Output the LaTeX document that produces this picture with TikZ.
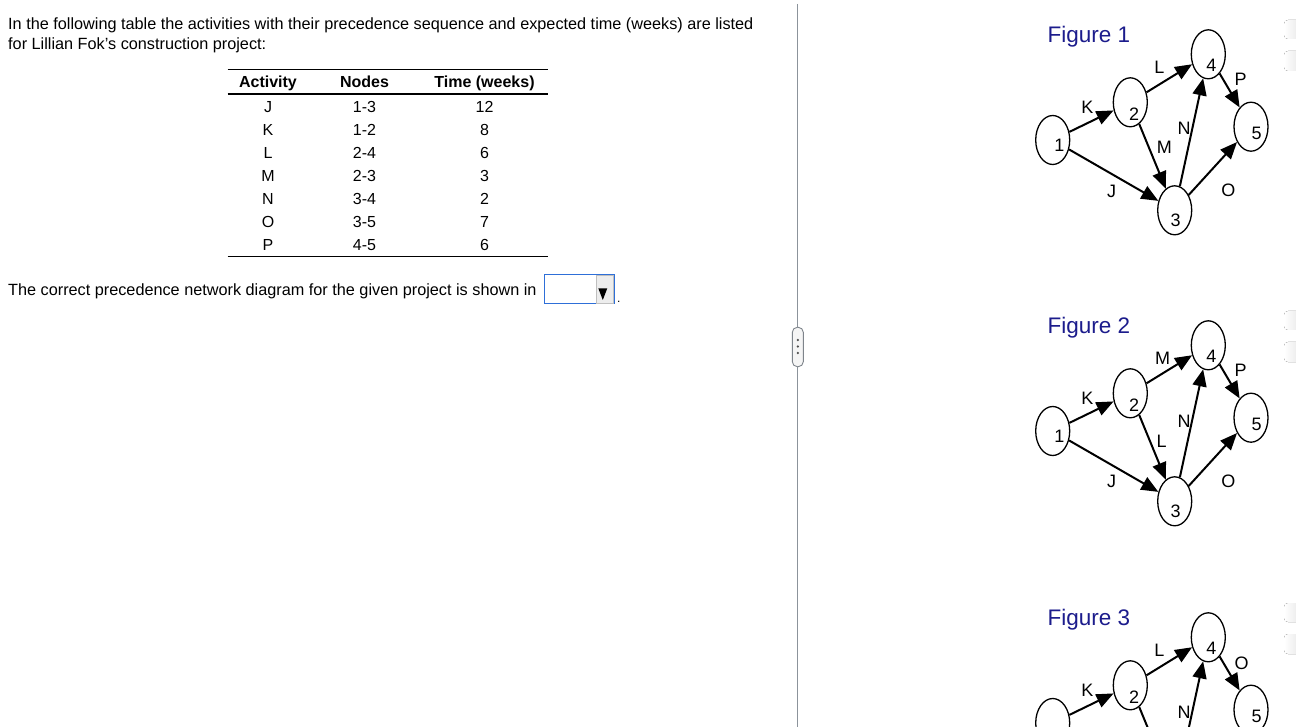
\documentclass[tikz,border=0pt]{standalone}
\usepackage{fontspec}
\setmainfont{Liberation Sans}
\usetikzlibrary{shapes.geometric,arrows.meta,calc}
\definecolor{figblue}{RGB}{28,28,140}
\definecolor{selblue}{RGB}{46,111,216}
\definecolor{divgray}{RGB}{140,147,155}
\tikzset{
  txt/.style={inner sep=0pt,anchor=base west,font=\fontsize{16.25}{19}\selectfont},
  cell/.style={inner sep=0pt,anchor=base,font=\fontsize{16}{19}\selectfont},
  head/.style={inner sep=0pt,anchor=base,font=\fontsize{16}{19}\selectfont\bfseries},
  figtitle/.style={inner sep=0pt,anchor=base west,text=figblue,font=\fontsize{22.5}{26}\selectfont},
  evt/.style={ellipse,draw,line width=1.3pt,minimum width=34pt,minimum height=49pt,inner sep=0pt},
  digit/.style={inner sep=0pt,font=\fontsize{18}{20}\selectfont},
  act/.style={inner sep=0pt,font=\fontsize{18}{20}\selectfont},
  edge/.style={line width=2pt,-{Triangle[length=17pt,width=14pt]}},
  blob/.style={left color=white,right color=black!9,draw=none,rounded corners=4pt},
}
\begin{document}
\begin{tikzpicture}[x=1pt,y=-1pt]
\useasboundingbox (0,0) rectangle (1296,727);
\clip (0,0) rectangle (1296,727);
\fill[white] (0,0) rectangle (1296,727);

% ---- question text ----
\node[txt] (l1) at (8,29.3) {In the following table the activities with their precedence sequence and expected time (weeks) are listed};
\node[txt] (l2) at (8,49.8) {for Lillian Fok's construction project:};

% ---- table ----
\draw[line width=1pt] (227.5,69.5) -- (547.5,69.5);
\draw[line width=2.2pt] (227.5,94) -- (547.5,94);
\draw[line width=1pt] (227.5,256.3) -- (547.5,256.3);
\node[head] (h1) at (268,88) {Activity};
\node[head] (h2) at (364.5,88) {Nodes};
\node[head] (h3) at (484.5,88) {Time (weeks)};
\foreach \a/\n/\t [count=\i from 0] in {J/1-3/12,K/1-2/8,L/2-4/6,M/2-3/3,N/3-4/2,O/3-5/7,P/4-5/6}{
  \node[cell] (a\i) at (268,112.3+23.05*\i) {\a};
  \node[cell] (n\i) at (364.5,112.3+23.05*\i) {\n};
  \node[cell] (t\i) at (484.5,112.3+23.05*\i) {\t};
}
\node[txt] (l3) at (8,295.6) {The correct precedence network diagram for the given project is shown in};
% dropdown
\draw[selblue,line width=1pt,fill=white] (544.5,274.5) rectangle (614.5,304);
\fill[black!7] (596.5,275.5) rectangle (613.5,303);
\draw[black!25,line width=0.6pt] (596.5,275.5) rectangle (613.5,303);
\fill[black] (598.3,288.3) -- (607.3,288.3) -- (602.8,300) -- cycle;
\node[txt,font=\fontsize{12}{14}\selectfont] (dot) at (617,302.5) {.};

% ---- divider ----
\draw[divgray,line width=1pt] (797.8,4) -- (797.8,727);
\draw[divgray!90!black,line width=0.9pt,fill=black!4,rounded corners=5pt] (792.3,327.3) rectangle (803.3,366.7);
\foreach \yy in {340,346.5,353}{\fill[black!70] (797.8,\yy) circle (1.3pt);}

% ---- right edge shadows ----
\foreach \off in {0,291,583}{
  \fill[blob] (1284,20+\off) rectangle (1300,39+\off);
  \fill[blob] (1284,51+\off) rectangle (1300,71+\off);
}

% ---- Figure 1 ----
\node[figtitle] (fig1) at (1047.5,42.3) {Figure 1};
\node[evt] (a1) at (1052.7,140) {};
\node[evt] (a2) at (1130.3,102.3) {};
\node[evt] (a3) at (1174.7,210.3) {};
\node[evt] (a4) at (1208.3,54.3) {};
\node[evt] (a5) at (1251,126.7) {};
\node[digit] (d1) at (1059.4,145) {1};
\node[digit] (d2) at (1134,114.3) {2};
\node[digit] (d3) at (1175.7,220) {3};
\node[digit] (d4) at (1211.3,65) {4};
\node[digit] (d5) at (1256.7,133.4) {5};
\draw[edge] (a1) -- (a2);
\draw[edge] (a2) -- (a4);
\draw[edge] (a2) -- (a3);
\draw[edge] (a3) -- (a4);
\draw[edge] (a1) -- (a3);
\draw[edge] (a3) -- (a5);
\draw[edge] (a4) -- (a5);
\node[act] (k1) at (1087.3,107.3) {K};
\node[act] (L1) at (1159.3,67.3) {L};
\node[act] (m1) at (1164.3,147.3) {M};
\node[act] (N1) at (1184,128.3) {N};
\node[act] (j1) at (1111.7,191.7) {J};
\node[act] (o1) at (1228.3,190) {O};
\node[act] (p1) at (1240.7,79.3) {P};

% ---- Figure 2 ----
\begin{scope}[shift={(0,291)}]
\node[figtitle] (fig2) at (1047.5,42.3) {Figure 2};
\node[evt] (b1) at (1052.7,140) {};
\node[evt] (b2) at (1130.3,102.3) {};
\node[evt] (b3) at (1174.7,210.3) {};
\node[evt] (b4) at (1208.3,54.3) {};
\node[evt] (b5) at (1251,126.7) {};
\node[digit] (e1) at (1059.4,145) {1};
\node[digit] (e2) at (1134,114.3) {2};
\node[digit] (e3) at (1175.7,220) {3};
\node[digit] (e4) at (1211.3,65) {4};
\node[digit] (e5) at (1256.7,133.4) {5};
\draw[edge] (b1) -- (b2);
\draw[edge] (b2) -- (b4);
\draw[edge] (b2) -- (b3);
\draw[edge] (b3) -- (b4);
\draw[edge] (b1) -- (b3);
\draw[edge] (b3) -- (b5);
\draw[edge] (b4) -- (b5);
\node[act] (k2) at (1087.3,107.3) {K};
\node[act] (m2) at (1162.5,67.3) {M};
\node[act] (L2) at (1161.7,150.5) {L};
\node[act] (N2) at (1184,130.5) {N};
\node[act] (j2) at (1111.7,190.5) {J};
\node[act] (o2) at (1228.3,190.5) {O};
\node[act] (p2) at (1240.7,79) {P};
\end{scope}

% ---- Figure 3 ----
\begin{scope}[shift={(0,583)}]
\node[figtitle] (fig3) at (1047.5,42.3) {Figure 3};
\node[evt] (c1) at (1052.7,140) {};
\node[evt] (c2) at (1130.3,102.3) {};
\node[evt] (c3) at (1174.7,210.3) {};
\node[evt] (c4) at (1208.3,54.3) {};
\node[evt] (c5) at (1251,126.7) {};
\node[digit] (g2) at (1134,114.3) {2};
\node[digit] (g4) at (1211.3,65) {4};
\node[digit] (g5) at (1256.7,133.4) {5};
\draw[edge] (c1) -- (c2);
\draw[edge] (c2) -- (c4);
\draw[edge] (c2) -- (c3);
\draw[edge] (c3) -- (c4);
\draw[edge] (c1) -- (c3);
\draw[edge] (c4) -- (c5);
\node[act] (k3) at (1087.3,107.3) {K};
\node[act] (L3) at (1159.3,67.3) {L};
\node[act] (N3) at (1184,129.7) {N};
\node[act] (o3) at (1241.7,80.3) {O};
\end{scope}
\end{tikzpicture}
\end{document}
